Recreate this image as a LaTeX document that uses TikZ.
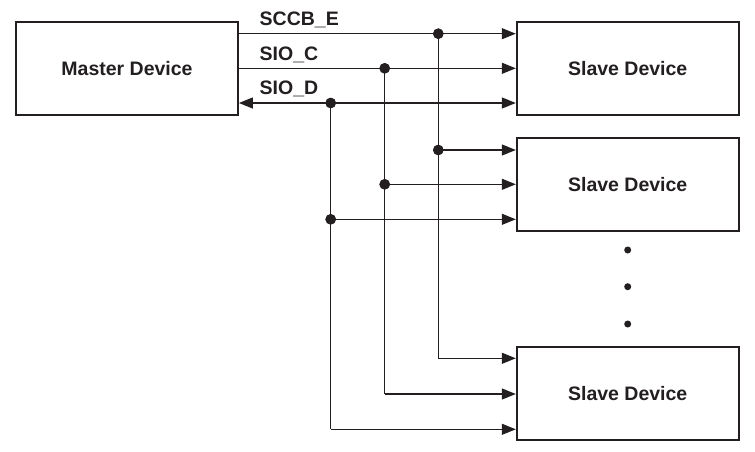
\documentclass[tikz,border=0pt]{standalone}
\usepackage{fontspec}
\setmainfont{Liberation Sans}
\usetikzlibrary{arrows.meta}
\definecolor{ink}{HTML}{231F20}
\begin{document}
\begin{tikzpicture}[x=1pt,y=-1pt,
  dev/.style={draw=ink,line width=1.8pt,minimum width=222pt,minimum height=93pt,inner sep=0pt,
    font=\fontsize{19.5}{21}\selectfont\bfseries,text=ink},
  wire/.style={draw=ink,line width=1.2pt},
  arr/.style={wire,-{Triangle[length=14pt,width=11pt]}},
  jdot/.style={circle,fill=ink,inner sep=0pt,minimum size=10.5pt},
  edot/.style={circle,fill=ink,inner sep=0pt,minimum size=7pt},
  lbl/.style={font=\fontsize{19.5}{21}\selectfont\bfseries,text=ink,anchor=base west,inner sep=0pt}]
\useasboundingbox (0,0) rectangle (755,452);
\node[dev] (m) at (127,68.5) {Master Device};
\node[dev] (s1) at (627.7,68.5) {Slave Device};
\node[dev] (s2) at (627.7,184.2) {Slave Device};
\node[dev] (s3) at (627.7,393.7) {Slave Device};
% labels
\node[lbl] (le) at (259.5,25.5) {SCCB\_E};
\node[lbl] (lc) at (259.5,60.5) {SIO\_C};
\node[lbl] (ld) at (259.5,95) {SIO\_D};
% junctions
\node[jdot] (je1) at (438.3,33.7) {};
\node[jdot] (je2) at (438.3,150) {};
\node[jdot] (jc1) at (384.7,68.3) {};
\node[jdot] (jc2) at (384.7,184.3) {};
\node[jdot] (jd1) at (330.7,103) {};
\node[jdot] (jd2) at (330.7,219.3) {};
\coordinate (ce) at (438.3,358.3);
\coordinate (cc) at (384.7,394);
\coordinate (cd) at (330.7,429.3);
% main lines
\draw[arr] (m.east |- je1) -- (s1.west |- je1);
\draw[arr] (m.east |- jc1) -- (s1.west |- jc1);
\draw[arr] (jd1.center) -- (s1.west |- jd1);
\draw[arr] (jd1.center) -- (m.east |- jd1);
% verticals
\draw[wire] (je1.center) -- (ce);
\draw[wire] (jc1.center) -- (cc);
\draw[wire] (jd1.center) -- (cd);
% branches
\draw[arr] (je2.center) -- (s2.west |- je2);
\draw[arr] (jc2.center) -- (s2.west |- jc2);
\draw[arr] (jd2.center) -- (s2.west |- jd2);
\draw[arr] (ce) -- (s3.west |- ce);
\draw[arr] (cc) -- (s3.west |- cc);
\draw[arr] (cd) -- (s3.west |- cd);
% redraw dots on top
\foreach \j in {je1,je2,jc1,jc2,jd1,jd2} \fill[ink] (\j) circle (5.25pt);
% ellipsis
\node[edot] (e1) at (627.7,250) {};
\node[edot] (e2) at (627.7,286.7) {};
\node[edot] (e3) at (627.7,324) {};
\end{tikzpicture}
\end{document}
